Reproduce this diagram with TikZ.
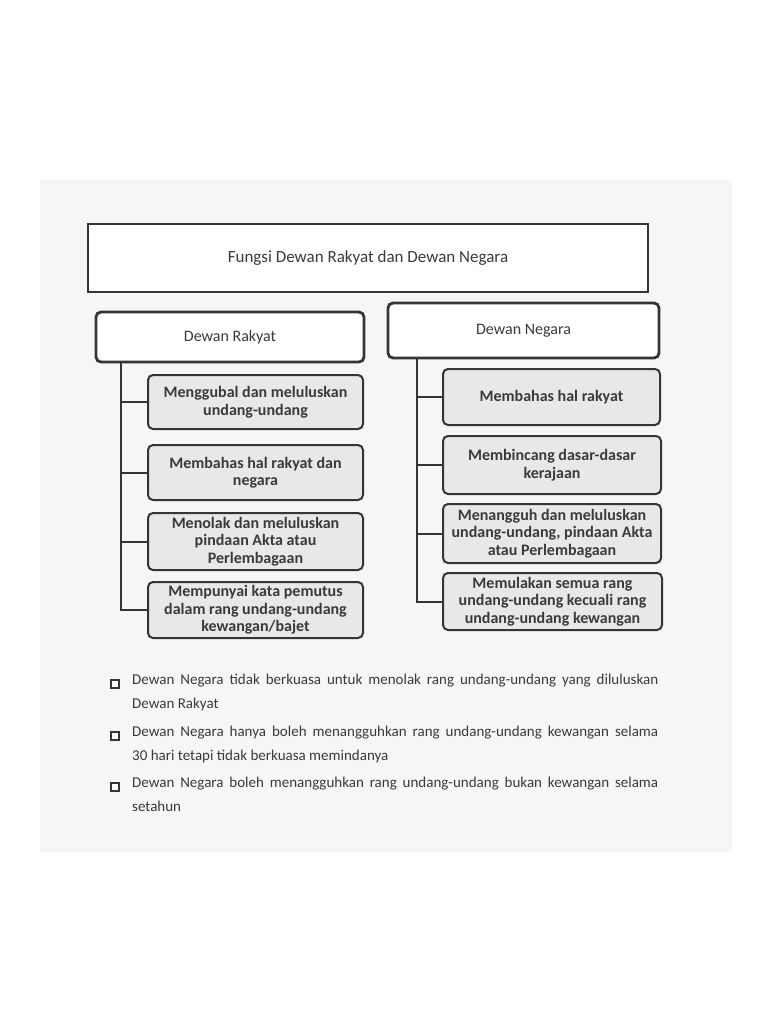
\documentclass[tikz,border=0pt]{standalone}
\usepackage{fontspec}
\setmainfont{Carlito}
\definecolor{ink}{HTML}{353535}
\definecolor{txt}{HTML}{3A3A3A}
\definecolor{boxfill}{HTML}{E8E8E8}
\definecolor{pagebg}{HTML}{F6F6F6}
\tikzset{
  titlebox/.style={draw=ink, line width=2pt, fill=white, text=txt, font=\fontsize{17}{20}\selectfont},
  headbox/.style={draw=ink, line width=2.8pt, fill=white, rounded corners=5pt, text=txt, font=\fontsize{16}{18}\selectfont},
  itembox/.style={draw=ink, line width=2pt, fill=boxfill, rounded corners=5pt, text=txt, align=center, font=\bfseries\fontsize{16}{17.5}\selectfont, inner sep=1pt},
  conn/.style={draw=ink, line width=2pt},
  sq/.style={draw=ink, line width=1.6pt, fill=white, minimum size=8pt, inner sep=0pt},
  bullettext/.style={text=txt, anchor=north west, inner sep=0pt, align=justify, text width=526pt, font=\fontsize{15}{24}\selectfont}
}
\begin{document}
\begin{tikzpicture}[x=1pt,y=-1pt]
\useasboundingbox (0,0) rectangle (768,1024);
\fill[pagebg] (40,180) rectangle (732,852);

% title
\node[titlebox, minimum width=560pt, minimum height=68pt] (title) at (368,258) {Fungsi Dewan Rakyat dan Dewan Negara};

% headings
\node[headbox, minimum width=268pt, minimum height=50pt] (dr) at (230,337) {Dewan Rakyat};
\node[headbox, minimum width=271pt, minimum height=55pt] (dn) at (523.5,330.5) {Dewan Negara};

% left items
\node[itembox, minimum width=215pt, minimum height=54pt] (l1) at (255.5,402) {Menggubal dan meluluskan\\undang-undang};
\node[itembox, minimum width=215pt, minimum height=55pt] (l2) at (255.5,472.5) {Membahas hal rakyat dan\\negara};
\node[itembox, minimum width=215pt, minimum height=57pt] (l3) at (255.5,541.5) {Menolak dan meluluskan\\pindaan Akta atau\\Perlembagaan};
\node[itembox, minimum width=215pt, minimum height=56pt] (l4) at (255.5,610) {Mempunyai kata pemutus\\dalam rang undang-undang\\kewangan/bajet};

% right items
\node[itembox, minimum width=217pt, minimum height=56pt] (r1) at (551.5,397) {Membahas hal rakyat};
\node[itembox, minimum width=218pt, minimum height=58pt] (r2) at (552,465) {Membincang dasar-dasar\\kerajaan};
\node[itembox, minimum width=218pt, minimum height=59pt] (r3) at (552,533.5) {Menangguh dan meluluskan\\undang-undang, pindaan Akta\\atau Perlembagaan};
\node[itembox, minimum width=219pt, minimum height=57pt] (r4) at (552.5,601.5) {Memulakan semua rang\\undang-undang kecuali rang\\undang-undang kewangan};

% trunks
\coordinate (lt) at (121,362);
\coordinate (rt) at (417,358);
\draw[conn] (lt) |- (l4.west);
\draw[conn] (lt |- l1.west) -- (l1.west);
\draw[conn] (lt |- l2.west) -- (l2.west);
\draw[conn] (lt |- l3.west) -- (l3.west);
\draw[conn] (rt) |- (r4.west);
\draw[conn] (rt |- r1.west) -- (r1.west);
\draw[conn] (rt |- r2.west) -- (r2.west);
\draw[conn] (rt |- r3.west) -- (r3.west);

% bullets
\node[sq] (s1) at (115,684) {};
\node[sq] (s2) at (115,736) {};
\node[sq] (s3) at (115,787) {};
\node[bullettext] (b1) at (132,674) {\makebox[526pt][s]{Dewan Negara tidak berkuasa untuk menolak rang undang-undang yang diluluskan}\\Dewan Rakyat};
\node[bullettext] (b2) at (132,726) {\makebox[526pt][s]{Dewan Negara hanya boleh menangguhkan rang undang-undang kewangan selama}\\30 hari tetapi tidak berkuasa memindanya};
\node[bullettext] (b3) at (132,777) {\makebox[526pt][s]{Dewan Negara boleh menangguhkan rang undang-undang bukan kewangan selama}\\setahun};
\end{tikzpicture}
\end{document}
